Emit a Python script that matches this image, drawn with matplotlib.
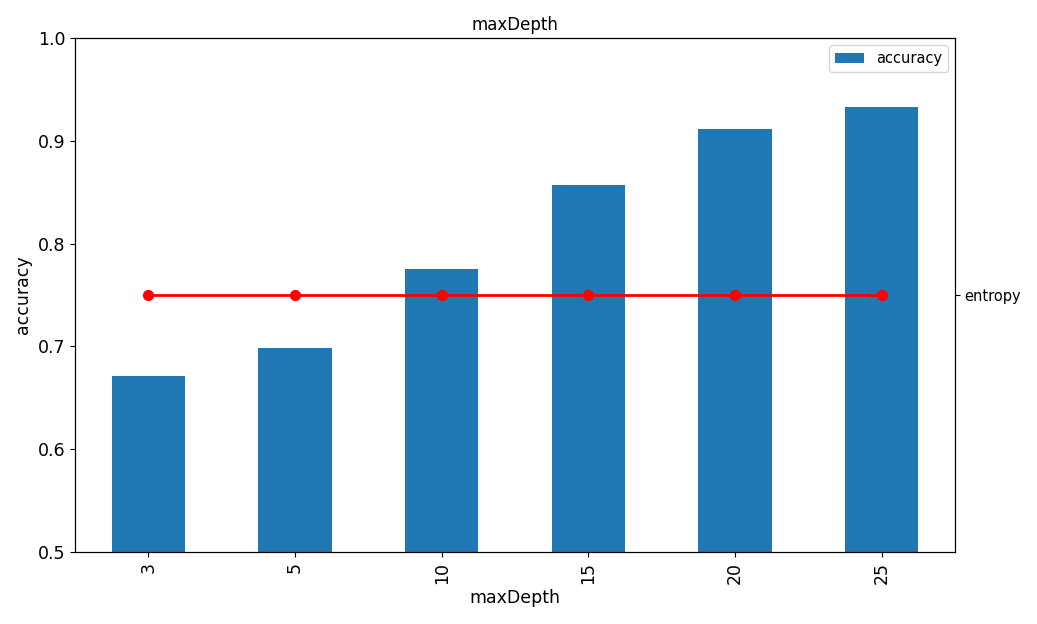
import numpy as np
import matplotlib
matplotlib.use("Agg")
import matplotlib.pyplot as plt

# accuracy per maxDepth
max_depth = ['3', '5', '10', '15', '20', '25']
accuracy = [0.671, 0.698, 0.775, 0.857, 0.911, 0.933]
criterion = ['entropy'] * len(max_depth)

fig = plt.figure(figsize=(10.37, 6.24), dpi=100)
ax = fig.add_axes([75/1037, 72/624, 880/1037, 514/624])

x = np.arange(len(max_depth))
ax.bar(x, accuracy, width=0.5, color='#1f77b4', label='accuracy')
ax.set_xlim(-0.5, len(max_depth) - 0.5)
ax.set_ylim(0.5, 1.0)
ax.set_xticks(x)
ax.set_xticklabels(max_depth, rotation=90, fontsize=12.5)
ax.tick_params(axis='y', labelsize=12.5)
ax.set_xlabel('maxDepth', fontsize=12.5)
ax.set_ylabel('accuracy', fontsize=12.5)
ax.set_title('maxDepth', fontsize=12)
ax.legend(loc='upper right', fontsize=10.5)

ax2 = ax.twinx()
ax2.plot(x, criterion, color='red', marker='o', markersize=7, linewidth=2)
ax2.tick_params(axis='y', labelsize=10.5)

fig.savefig('out.png', dpi=100)
